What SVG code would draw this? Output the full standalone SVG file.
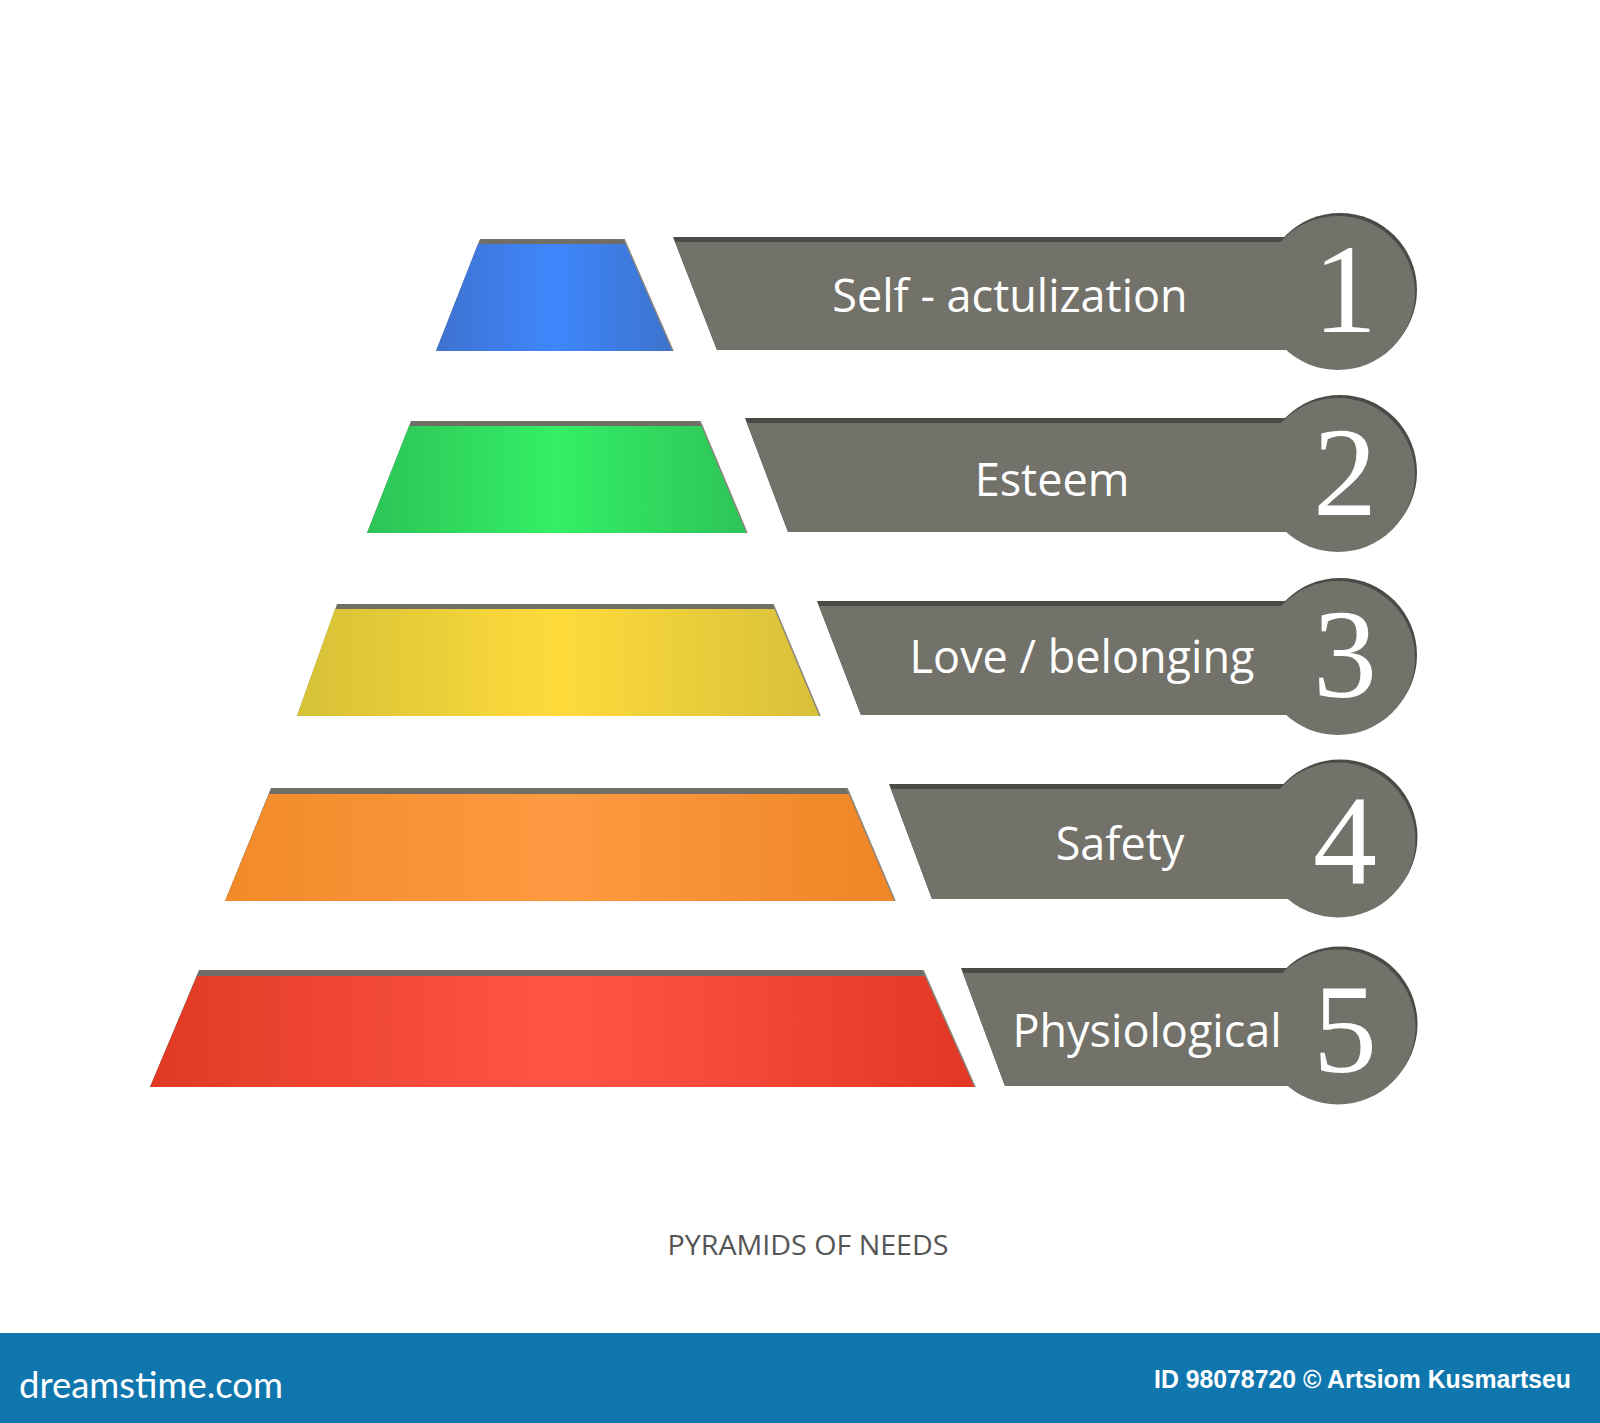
<svg xmlns="http://www.w3.org/2000/svg" width="1600" height="1423" viewBox="0 0 1600 1423">
<defs>
<linearGradient id="gBlue" x1="0" y1="0" x2="1" y2="0"><stop offset="0" stop-color="#3e72cf"/><stop offset="0.5" stop-color="#3f86fd"/><stop offset="1" stop-color="#3d73cc"/></linearGradient>
<linearGradient id="gGreen" x1="0" y1="0" x2="1" y2="0"><stop offset="0" stop-color="#2dc456"/><stop offset="0.5" stop-color="#34ef66"/><stop offset="1" stop-color="#2dc457"/></linearGradient>
<linearGradient id="gYellow" x1="0" y1="0" x2="1" y2="0"><stop offset="0" stop-color="#d6c136"/><stop offset="0.5" stop-color="#fedb3b"/><stop offset="1" stop-color="#d8c03a"/></linearGradient>
<linearGradient id="gOrange" x1="0" y1="0" x2="1" y2="0"><stop offset="0" stop-color="#f28a29"/><stop offset="0.5" stop-color="#fd9a41"/><stop offset="1" stop-color="#ef8526"/></linearGradient>
<linearGradient id="gRed" x1="0" y1="0" x2="1" y2="0"><stop offset="0" stop-color="#e03a24"/><stop offset="0.5" stop-color="#ff5546"/><stop offset="1" stop-color="#e03824"/></linearGradient>
</defs>
<style>
.strip{fill:#716e68}
.edge{fill:none;stroke:#8a857c;stroke-width:1.5}
.bardark{fill:#4b4a46}
.bar{fill:#72716a}
.label{font-family:"Open Sans","Liberation Sans",sans-serif;font-size:45px;fill:#ffffff;text-anchor:middle}
.num{font-family:"Liberation Serif","DejaVu Serif",serif;font-size:128px;fill:#ffffff;text-anchor:middle}
</style>
<rect width="1600" height="1423" fill="#ffffff"/>

<g id="level1">
<polygon class="strip" points="480,239 624,239 673,351 436,351"/>
<polygon fill="url(#gBlue)" points="478,244 626,244 673,351 436,351"/>
<line class="edge" x1="624" y1="239" x2="673" y2="351"/>
<circle class="bardark" cx="1340" cy="290" r="77"/>
<polygon class="bardark" points="673,237 1338,237 1338,350 717,350"/>
<circle class="bar" cx="1338" cy="293" r="77"/>
<polygon class="bar" points="675,242 1338,242 1338,350 717,350"/>
<text class="label" x="1010" y="312">Self - actulization</text>
<text class="num" x="1345" y="332">1</text>
</g>

<g id="level2">
<polygon class="strip" points="411,421 700,421 747,533 367,533"/>
<polygon fill="url(#gGreen)" points="409,426 702,426 747,533 367,533"/>
<line class="edge" x1="700" y1="421" x2="747" y2="533"/>
<circle class="bardark" cx="1340" cy="472" r="77"/>
<polygon class="bardark" points="745,418 1338,418 1338,532 788,532"/>
<circle class="bar" cx="1338" cy="475" r="77"/>
<polygon class="bar" points="747,423 1338,423 1338,532 788,532"/>
<text class="label" x="1052" y="496">Esteem</text>
<text class="num" x="1345" y="515">2</text>
</g>

<g id="level3">
<polygon class="strip" points="337,604 773,604 820,716 297,716"/>
<polygon fill="url(#gYellow)" points="335,609 775,609 820,716 297,716"/>
<line class="edge" x1="773" y1="604" x2="820" y2="716"/>
<circle class="bardark" cx="1340" cy="655" r="77"/>
<polygon class="bardark" points="817,601 1338,601 1338,715 861,715"/>
<circle class="bar" cx="1338" cy="658" r="77"/>
<polygon class="bar" points="819,606 1338,606 1338,715 861,715"/>
<text class="label" x="1082" y="673">Love / belonging</text>
<text class="num" x="1345" y="697">3</text>
</g>

<g id="level4">
<polygon class="strip" points="271,788 847,788 895,901 225,901"/>
<polygon fill="url(#gOrange)" points="269,794 849,794 895,901 225,901"/>
<line class="edge" x1="847" y1="788" x2="895" y2="901"/>
<circle class="bardark" cx="1340" cy="837" r="77.5"/>
<polygon class="bardark" points="889,784 1338,784 1338,899 932,899"/>
<circle class="bar" cx="1338" cy="840" r="77.5"/>
<polygon class="bar" points="891,789 1338,789 1338,899 932,899"/>
<text class="label" x="1120" y="860">Safety</text>
<text class="num" x="1345" y="883">4</text>
</g>

<g id="level5">
<polygon class="strip" points="199,970 923,970 975,1087 150,1087"/>
<polygon fill="url(#gRed)" points="197,976 925,976 975,1087 150,1087"/>
<line class="edge" x1="923" y1="970" x2="975" y2="1087"/>
<circle class="bardark" cx="1340" cy="1024" r="77.5"/>
<polygon class="bardark" points="961,968 1338,968 1338,1086 1005,1086"/>
<circle class="bar" cx="1338" cy="1027" r="77.5"/>
<polygon class="bar" points="963,973 1338,973 1338,1086 1005,1086"/>
<text class="label" x="1147" y="1047">Physiological</text>
<text class="num" x="1345" y="1072">5</text>
</g>

<g id="connectors"></g>

<g id="title">
<text x="808" y="1255" font-family="'Open Sans','Liberation Sans',sans-serif" font-size="28" fill="#555555" text-anchor="middle" textLength="281" lengthAdjust="spacingAndGlyphs">PYRAMIDS OF NEEDS</text>
</g>

<g id="footer">
<rect x="0" y="1333" width="1600" height="90" fill="#1077ae"/>
<text x="19" y="1398" font-family="Lato,'Noto Sans',sans-serif" font-size="36" fill="#ffffff" textLength="264" lengthAdjust="spacingAndGlyphs">dreamstime.com</text>
<text x="1571" y="1388" font-family="'Liberation Sans',Arial,sans-serif" font-weight="bold" font-size="25" fill="#ffffff" text-anchor="end" textLength="417" lengthAdjust="spacingAndGlyphs">ID 98078720 © Artsiom Kusmartseu</text>
</g>
</svg>
